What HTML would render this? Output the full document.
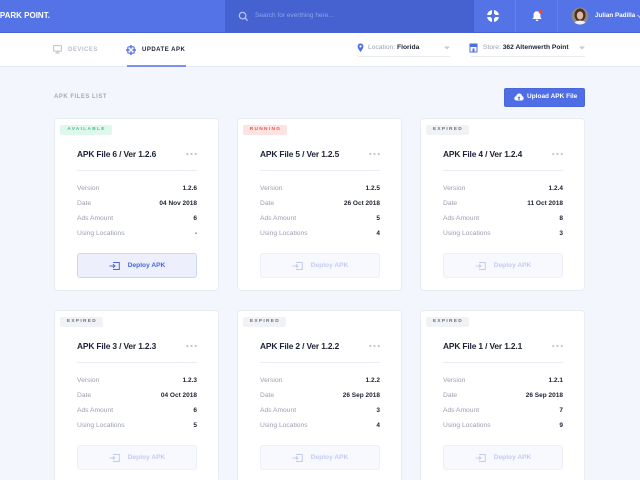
<!DOCTYPE html>
<html><head><meta charset="utf-8">
<style>
*{margin:0;padding:0;box-sizing:border-box}
html,body{width:640px;height:480px;overflow:hidden;background:#f4f6fd;font-family:"Liberation Sans",Arial,sans-serif;position:relative}
.abs{position:absolute}
#hdr{left:0;top:0;width:640px;height:33px;background:#5473e6;border-bottom:1px solid #4563d6}
#search{left:225px;top:0;width:249px;height:32px;background:#4562d0}
.vl{position:absolute;top:0;width:1px;height:32px;background:#6482ea}
#nav{left:0;top:33px;width:640px;height:34px;background:#fff;border-bottom:1px solid #e6e9f3}
.card{position:absolute;width:165px;height:173px;background:#fff;border:1px solid #e9ecf5;border-radius:4px}
.badge{position:absolute;left:5px;top:6px;height:10px;line-height:10px;font-size:4.8px;font-weight:bold;letter-spacing:1.3px;text-align:center;border-radius:2px;padding-left:1px}
.av{background:#e0f7ed;color:#3cc78a;width:52px}
.ru{background:#fde4e2;color:#ef5146;width:44px}
.ex{background:#f1f2f6;color:#6b6f80;width:43px}
.title{position:absolute;left:22px;top:29px;height:12px;line-height:12px;font-size:8.4px;font-weight:bold;color:#1d2136;letter-spacing:-0.15px;white-space:nowrap}
.dots{position:absolute;left:131px;top:33px}
.dv{position:absolute;left:22px;top:51px;width:120px;height:1px;background:#e9ecf4}
.row{position:absolute;left:22px;width:120px;height:12px;line-height:12px;display:flex;justify-content:space-between;white-space:nowrap}
.row span{font-size:6.7px;color:#9a9fb2}
.row b{font-size:6.5px;color:#1d2136;font-weight:bold}
.btn{position:absolute;left:22px;top:134px;width:120px;height:25px;border-radius:3px;display:flex;align-items:center;justify-content:center;gap:8px;font-size:6.6px;font-weight:bold}
.on{background:#edf0fc;border:1px solid #cdd6f5;color:#4a66de}
.off{background:#f8f9fe;border:1px solid #edf0fa;color:#c3cbf2}
</style></head><body>

<div id="hdr" class="abs"></div>
<div id="search" class="abs"></div>
<div class="vl" style="left:515px"></div>
<div class="vl" style="left:557px"></div>
<div class="abs" style="left:-5.5px;top:10px;height:12px;line-height:12px;font-size:8px;font-weight:bold;color:#fff;white-space:nowrap">SPARK POINT.</div>
<svg class="abs" style="left:238px;top:11px" width="11" height="11" viewBox="0 0 11 11"><circle cx="4.6" cy="4.6" r="3.3" fill="none" stroke="#b9c6f4" stroke-width="1.2"/><line x1="7" y1="7" x2="9.6" y2="9.6" stroke="#b9c6f4" stroke-width="1.3"/></svg>
<div class="abs" style="left:255px;top:11px;height:10px;line-height:10px;font-size:6.5px;color:#8fa3ea;white-space:nowrap">Search for everthing here...</div>
<svg class="abs" style="left:486px;top:9px" width="14" height="14" viewBox="0 0 14 14"><circle cx="7" cy="7" r="6" fill="#fff"/><rect x="6" y="0" width="2" height="14" fill="#5473e6"/><rect x="0" y="6" width="14" height="2" fill="#5473e6"/><circle cx="7" cy="7" r="2.6" fill="#5473e6"/></svg>
<svg class="abs" style="left:531px;top:9px" width="13" height="14" viewBox="0 0 13 14"><path d="M6 2.2c-2.2 0-3.4 1.6-3.4 3.6v2.6L1.3 10h9.4L9.4 8.4V5.8C9.4 3.8 8.2 2.2 6 2.2z" fill="#fff"/><rect x="4.7" y="10.6" width="2.6" height="1.4" rx="0.7" fill="#fff"/><circle cx="9.6" cy="2.8" r="1.9" fill="#f0473d"/></svg>
<svg class="abs" style="left:571px;top:7px" width="18" height="18" viewBox="0 0 18 18"><defs><clipPath id="c"><circle cx="9" cy="9" r="8.5"/></clipPath></defs><g clip-path="url(#c)"><rect width="18" height="18" fill="#8c8a86"/><ellipse cx="9" cy="8" rx="5.5" ry="6.5" fill="#4a2f25"/><ellipse cx="9" cy="8.5" rx="3.2" ry="4" fill="#e2b9a0"/><ellipse cx="9" cy="18" rx="7" ry="4.5" fill="#f3f1ef"/></g></svg>
<div class="abs" style="left:595px;top:11px;height:10px;line-height:10px;font-size:6.3px;font-weight:bold;color:#fff;white-space:nowrap">Julian Padilla</div>
<svg class="abs" style="left:637px;top:14px" width="6" height="5" viewBox="0 0 6 5"><path d="M0.5 1l2.5 2.5L5.5 1" fill="none" stroke="#c9d3f7" stroke-width="0.9"/></svg>

<div id="nav" class="abs"></div>
<svg class="abs" style="left:53px;top:45px" width="9" height="9" viewBox="0 0 9 9"><rect x="0.6" y="0.6" width="7.8" height="5.6" rx="0.6" fill="none" stroke="#c2c6d2" stroke-width="1.1"/><rect x="3.6" y="6.2" width="1.8" height="1.6" fill="#c2c6d2"/><rect x="2.4" y="7.6" width="4.2" height="1" fill="#c2c6d2"/></svg>
<div class="abs" style="left:68px;top:45px;height:10px;line-height:10px;font-size:6px;font-weight:bold;letter-spacing:0.5px;color:#bbbfcb">DEVICES</div>
<svg class="abs" style="left:126px;top:45px" width="10" height="10" viewBox="0 0 10 10"><rect x="1.8" y="1.8" width="6.4" height="6.4" rx="1" fill="none" stroke="#5a77e6" stroke-width="1.2"/><rect x="4.2" y="0" width="1.6" height="10" fill="#5a77e6"/><rect x="0" y="4.2" width="10" height="1.6" fill="#5a77e6"/><rect x="3.6" y="3.6" width="2.8" height="2.8" fill="#fff"/></svg>
<div class="abs" style="left:142px;top:45px;height:10px;line-height:10px;font-size:6px;font-weight:bold;letter-spacing:0.5px;color:#1d2136">UPDATE APK</div>
<div class="abs" style="left:127px;top:65px;width:59px;height:2px;background:#7b92ec"></div>

<svg class="abs" style="left:357px;top:43px" width="7" height="10" viewBox="0 0 7 10"><path d="M3.5 0.5C1.8 0.5 0.6 1.8 0.6 3.4c0 2.2 2.9 5.6 2.9 5.6s2.9-3.4 2.9-5.6C6.4 1.8 5.2 0.5 3.5 0.5z" fill="#4f6de3"/><circle cx="3.5" cy="3.4" r="1.1" fill="#fff"/></svg>
<div class="abs" style="left:368px;top:43px;height:10px;line-height:10px;font-size:6.7px;color:#9ea2b3;white-space:nowrap">Location: <b style="color:#1d2136">Florida</b></div>
<svg class="abs" style="left:444px;top:46px" width="6" height="4" viewBox="0 0 6 4"><path d="M0 0.5h6L3 3.5z" fill="#c5c9d5"/></svg>
<div class="abs" style="left:358px;top:56px;width:92px;height:1px;background:#e8ebf2"></div>
<svg class="abs" style="left:469px;top:43px" width="9" height="10" viewBox="0 0 9 10"><rect x="0.5" y="0.5" width="8" height="3" fill="#4f6de3"/><rect x="1" y="3.5" width="7" height="5.5" fill="none" stroke="#4f6de3" stroke-width="1"/><rect x="3.5" y="5.5" width="2" height="3.5" fill="#4f6de3"/></svg>
<div class="abs" style="left:483px;top:43px;height:10px;line-height:10px;font-size:6.7px;color:#9ea2b3;white-space:nowrap">Store: <b style="color:#1d2136">362 Altenwerth Point</b></div>
<svg class="abs" style="left:579px;top:46px" width="6" height="4" viewBox="0 0 6 4"><path d="M0 0.5h6L3 3.5z" fill="#c5c9d5"/></svg>
<div class="abs" style="left:471px;top:56px;width:114px;height:1px;background:#e8ebf2"></div>

<div class="abs" style="left:54px;top:92px;height:10px;line-height:10px;font-size:6px;font-weight:bold;letter-spacing:0.5px;color:#a6aabb">APK FILES LIST</div>
<div class="abs" style="left:504px;top:88px;width:81px;height:19px;background:#4f6ee6;border-radius:2px;border:1px solid #4a67dc"></div>
<svg class="abs" style="left:514px;top:93px" width="10" height="8" viewBox="0 0 10 8"><path d="M2.6 7.5C1.3 7.5 0.3 6.6 0.3 5.4c0-1.1 0.8-2 1.9-2.1C2.5 1.7 3.7 0.5 5.2 0.5c1.5 0 2.7 1.1 2.9 2.6 1 0.2 1.6 1 1.6 2 0 1.3-1 2.4-2.3 2.4z" fill="#fff"/><path d="M5 3.2L3.4 5h1v2h1.2V5h1z" fill="#4f6ee6"/></svg>
<div class="abs" style="left:527px;top:92px;height:10px;line-height:10px;font-size:6.5px;font-weight:bold;color:#fff;white-space:nowrap">Upload APK File</div>

<!-- Cards -->
<div class="card" style="left:54px;top:118px">
 <div class="badge av">AVAILABLE</div>
 <div class="title">APK File 6 / Ver 1.2.6</div>
 <svg class="dots" width="11" height="4" viewBox="0 0 11 4"><circle cx="1.3" cy="2" r="1.1" fill="#c0c5d6"/><circle cx="5.5" cy="2" r="1.1" fill="#c0c5d6"/><circle cx="9.7" cy="2" r="1.1" fill="#c0c5d6"/></svg>
 <div class="dv"></div>
 <div class="row" style="top:64px"><span>Version</span><b>1.2.6</b></div>
 <div class="row" style="top:79px"><span>Date</span><b>04 Nov 2018</b></div>
 <div class="row" style="top:94px"><span>Ads Amount</span><b>6</b></div>
 <div class="row" style="top:109px"><span>Using Locations</span><b>-</b></div>
 <div class="btn on"><svg width="11" height="8" viewBox="0 0 11 8"><path d="M4 0.5h6.3v7H4" fill="none" stroke="#4a66de" stroke-width="1"/><path d="M0.5 4h5.5M4 2.2L6 4 4 5.8" fill="none" stroke="#4a66de" stroke-width="1"/></svg>Deploy APK</div>
</div>

<div class="card" style="left:237px;top:118px">
 <div class="badge ru">RUNNING</div>
 <div class="title">APK File 5 / Ver 1.2.5</div>
 <svg class="dots" width="11" height="4" viewBox="0 0 11 4"><circle cx="1.3" cy="2" r="1.1" fill="#c0c5d6"/><circle cx="5.5" cy="2" r="1.1" fill="#c0c5d6"/><circle cx="9.7" cy="2" r="1.1" fill="#c0c5d6"/></svg>
 <div class="dv"></div>
 <div class="row" style="top:64px"><span>Version</span><b>1.2.5</b></div>
 <div class="row" style="top:79px"><span>Date</span><b>26 Oct 2018</b></div>
 <div class="row" style="top:94px"><span>Ads Amount</span><b>5</b></div>
 <div class="row" style="top:109px"><span>Using Locations</span><b>4</b></div>
 <div class="btn off"><svg width="11" height="8" viewBox="0 0 11 8"><path d="M4 0.5h6.3v7H4" fill="none" stroke="#c3cbf2" stroke-width="1"/><path d="M0.5 4h5.5M4 2.2L6 4 4 5.8" fill="none" stroke="#c3cbf2" stroke-width="1"/></svg>Deploy APK</div>
</div>

<div class="card" style="left:420px;top:118px">
 <div class="badge ex">EXPIRED</div>
 <div class="title">APK File 4 / Ver 1.2.4</div>
 <svg class="dots" width="11" height="4" viewBox="0 0 11 4"><circle cx="1.3" cy="2" r="1.1" fill="#c0c5d6"/><circle cx="5.5" cy="2" r="1.1" fill="#c0c5d6"/><circle cx="9.7" cy="2" r="1.1" fill="#c0c5d6"/></svg>
 <div class="dv"></div>
 <div class="row" style="top:64px"><span>Version</span><b>1.2.4</b></div>
 <div class="row" style="top:79px"><span>Date</span><b>11 Oct 2018</b></div>
 <div class="row" style="top:94px"><span>Ads Amount</span><b>8</b></div>
 <div class="row" style="top:109px"><span>Using Locations</span><b>3</b></div>
 <div class="btn off"><svg width="11" height="8" viewBox="0 0 11 8"><path d="M4 0.5h6.3v7H4" fill="none" stroke="#c3cbf2" stroke-width="1"/><path d="M0.5 4h5.5M4 2.2L6 4 4 5.8" fill="none" stroke="#c3cbf2" stroke-width="1"/></svg>Deploy APK</div>
</div>

<div class="card" style="left:54px;top:310px">
 <div class="badge ex">EXPIRED</div>
 <div class="title">APK File 3 / Ver 1.2.3</div>
 <svg class="dots" width="11" height="4" viewBox="0 0 11 4"><circle cx="1.3" cy="2" r="1.1" fill="#c0c5d6"/><circle cx="5.5" cy="2" r="1.1" fill="#c0c5d6"/><circle cx="9.7" cy="2" r="1.1" fill="#c0c5d6"/></svg>
 <div class="dv"></div>
 <div class="row" style="top:64px"><span>Version</span><b>1.2.3</b></div>
 <div class="row" style="top:79px"><span>Date</span><b>04 Oct 2018</b></div>
 <div class="row" style="top:94px"><span>Ads Amount</span><b>6</b></div>
 <div class="row" style="top:109px"><span>Using Locations</span><b>5</b></div>
 <div class="btn off"><svg width="11" height="8" viewBox="0 0 11 8"><path d="M4 0.5h6.3v7H4" fill="none" stroke="#c3cbf2" stroke-width="1"/><path d="M0.5 4h5.5M4 2.2L6 4 4 5.8" fill="none" stroke="#c3cbf2" stroke-width="1"/></svg>Deploy APK</div>
</div>

<div class="card" style="left:237px;top:310px">
 <div class="badge ex">EXPIRED</div>
 <div class="title">APK File 2 / Ver 1.2.2</div>
 <svg class="dots" width="11" height="4" viewBox="0 0 11 4"><circle cx="1.3" cy="2" r="1.1" fill="#c0c5d6"/><circle cx="5.5" cy="2" r="1.1" fill="#c0c5d6"/><circle cx="9.7" cy="2" r="1.1" fill="#c0c5d6"/></svg>
 <div class="dv"></div>
 <div class="row" style="top:64px"><span>Version</span><b>1.2.2</b></div>
 <div class="row" style="top:79px"><span>Date</span><b>26 Sep 2018</b></div>
 <div class="row" style="top:94px"><span>Ads Amount</span><b>3</b></div>
 <div class="row" style="top:109px"><span>Using Locations</span><b>4</b></div>
 <div class="btn off"><svg width="11" height="8" viewBox="0 0 11 8"><path d="M4 0.5h6.3v7H4" fill="none" stroke="#c3cbf2" stroke-width="1"/><path d="M0.5 4h5.5M4 2.2L6 4 4 5.8" fill="none" stroke="#c3cbf2" stroke-width="1"/></svg>Deploy APK</div>
</div>

<div class="card" style="left:420px;top:310px">
 <div class="badge ex">EXPIRED</div>
 <div class="title">APK File 1 / Ver 1.2.1</div>
 <svg class="dots" width="11" height="4" viewBox="0 0 11 4"><circle cx="1.3" cy="2" r="1.1" fill="#c0c5d6"/><circle cx="5.5" cy="2" r="1.1" fill="#c0c5d6"/><circle cx="9.7" cy="2" r="1.1" fill="#c0c5d6"/></svg>
 <div class="dv"></div>
 <div class="row" style="top:64px"><span>Version</span><b>1.2.1</b></div>
 <div class="row" style="top:79px"><span>Date</span><b>26 Sep 2018</b></div>
 <div class="row" style="top:94px"><span>Ads Amount</span><b>7</b></div>
 <div class="row" style="top:109px"><span>Using Locations</span><b>9</b></div>
 <div class="btn off"><svg width="11" height="8" viewBox="0 0 11 8"><path d="M4 0.5h6.3v7H4" fill="none" stroke="#c3cbf2" stroke-width="1"/><path d="M0.5 4h5.5M4 2.2L6 4 4 5.8" fill="none" stroke="#c3cbf2" stroke-width="1"/></svg>Deploy APK</div>
</div>

</body></html>
